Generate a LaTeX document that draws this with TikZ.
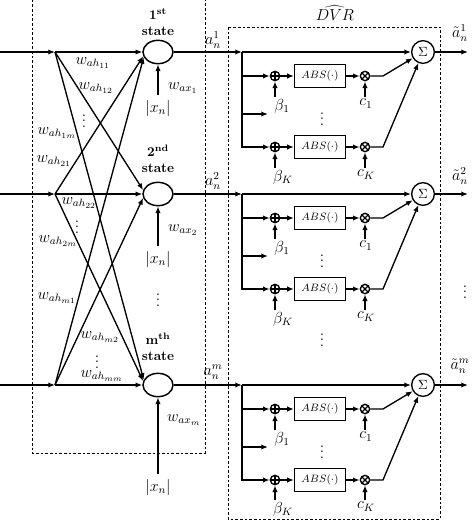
\documentclass[tikz,border=0pt]{standalone}
\usetikzlibrary{arrows.meta,shapes.geometric}

\tikzset{every picture/.style={line width=1pt}}
\tikzset{
  statenode/.style={draw, ellipse, inner sep=0pt, minimum width=22.5pt, minimum height=17.5pt, line width=1.1pt},
  sumnode/.style={draw, circle, inner sep=0pt, minimum size=17pt, font=\normalsize},
  absbox/.style={draw, rectangle, minimum width=38pt, minimum height=17pt, inner sep=1pt, font=\footnotesize, line width=1.2pt},
  addnode/.style={draw, circle, inner sep=0pt, minimum size=7pt,
    path picture={\draw (path picture bounding box.north) -- (path picture bounding box.south)
      (path picture bounding box.west) -- (path picture bounding box.east);}},
  mulnode/.style={draw, circle, inner sep=0pt, minimum size=7pt,
    path picture={\draw (path picture bounding box.north west) -- (path picture bounding box.south east)
      (path picture bounding box.north east) -- (path picture bounding box.south west);}},
  dashbox/.style={dash pattern=on 2pt off 1.5pt, line width=0.6pt},
  coef/.style={anchor=north, inner sep=1pt},
  statelbl/.style={align=center, font=\normalsize\bfseries, inner sep=1pt}
}

\begin{document}
\begin{tikzpicture}[x=0.75pt,y=0.75pt,yscale=-1,xscale=1, >={Latex[length=5pt,width=4pt]}, every node/.append style={font=\large}]
	\useasboundingbox (0,0) rectangle (474,521);

	%Dashed boxes
	\draw [dashbox] (32,-5) rectangle (205,453);
	\draw [dashbox] (228,27) rectangle (440,519);
	% Text Node
	\node (dvr) at (335,13) {$\widehat{DVR}$};

	%States
	\node [statenode] (s1) at (158,52) {};
	\node [statenode] (s2) at (158,194) {};
	\node [statenode] (s3) at (158,385) {};
	% Text Node
	\node [statelbl] (t1) at (158,22) {1\textsuperscript{st}\\state};
	\node [statelbl] (t2) at (158,159) {2\textsuperscript{nd}\\state};
	\node [statelbl] (t3) at (158,347) {m\textsuperscript{th}\\state};
	\node (sdots) at (158,296) {$\vdots$};

	%Inputs and fan points
	\coordinate (in1) at (0,52);
	\coordinate (f1) at (55,52);
	\coordinate (in2) at (0,194);
	\coordinate (f2) at (55,194);
	\coordinate (in3) at (0,385);
	\coordinate (f3) at (55,385);
	\draw [->] (in1) -- (f1);
	\draw [->] (in2) -- (f2);
	\draw [->] (in3) -- (f3);

	%Weight lines
	\draw [->] (f1) -- (s1);
	\draw [->] (f1) -- (s2.165);
	\draw [->] (f1) -- (s3.160);
	\draw [->] (f2) -- (s1.196);
	\draw [->] (f2) -- (s2);
	\draw [->] (f2) -- (s3.165);
	\draw [->] (f3) -- (s1.200);
	\draw [->] (f3) -- (s2.195);
	\draw [->] (f3) -- (s3);

	% Text Node
	\node (w11) at (93,63) {$w_{ah_{11}}$};
	\node (w12) at (96,88) {$w_{ah_{12}}$};
	\node (wd1) at (84,117) {$\vdots$};
	\node (w1m) at (57,133) {$w_{ah_{1m}}$};
	\node (w21) at (54,161) {$w_{ah_{21}}$};
	\node (w22) at (79,203) {$w_{ah_{22}}$};
	\node (wd2) at (77,223) {$\vdots$};
	\node (w2m) at (58,241) {$w_{ah_{2m}}$};
	\node (wm1) at (57,298) {$w_{ah_{m1}}$};
	\node (wm2) at (100,337) {$w_{ah_{m2}}$};
	\node (wdm) at (97,358) {$\vdots$};
	\node (wmm) at (102,376) {$w_{ah_{mm}}$};

	%Inputs from below
	\node (x1) at (158,108) {$|x_n|$};
	\node (x2) at (158,259) {$|x_n|$};
	\node (x3) at (158,487) {$|x_n|$};
	\draw [->] (x1) -- (s1);
	\draw [->] (x2) -- (s2);
	\draw [->] (x3) -- (s3);
	\node (wx1) at (183,88) {$w_{ax_1}$};
	\node (wx2) at (183,230) {$w_{ax_2}$};
	\node (wxm) at (184,420) {$w_{ax_m}$};

	%Outputs to DVR
	\coordinate (j1) at (242,52);
	\coordinate (j2) at (242,194);
	\coordinate (j3) at (242,385);
	\draw [->] (s1) -- (j1);
	\draw [->] (s2) -- (j2);
	\draw [->] (s3) -- (j3);
	\node (a1) at (213,40) {$a_n^1$};
	\node (a2) at (213,181) {$a_n^2$};
	\node (a3) at (213,372) {$a_n^m$};

	%DVR block 1
	\node [sumnode] (sum1) at (423,52) {$\Sigma$};
	\draw [->] (j1) -- (sum1);
	\node [addnode] (p1a) at (275,76) {};
	\node [absbox] (abs1a) at (320,76) {$ABS(\cdot)$};
	\node [mulnode] (m1a) at (365,76) {};
	\coordinate (k1a) at (383,76);
	\node [addnode] (p1k) at (275,147) {};
	\node [absbox] (abs1k) at (320,147) {$ABS(\cdot)$};
	\node [mulnode] (m1k) at (365,147) {};
	\coordinate (k1k) at (383,147);
	\coordinate (j1c) at (242,114);
	\coordinate (e1c) at (268,114);
	\draw [->] (j1) |- (p1k);
	\draw [->] (p1a -| j1) -- (p1a);
	\draw [->] (j1c) -- (e1c);
	\draw [->] (p1a) -- (abs1a);
	\draw [->] (abs1a) -- (m1a);
	\draw [->] (m1a) -- (k1a) -- (sum1);
	\draw [->] (p1k) -- (abs1k);
	\draw [->] (abs1k) -- (m1k);
	\draw [->] (m1k) -- (k1k) -- (sum1);
	\node [coef] (b1a) at (282,97) {$\beta_1$};
	\node [coef] (c1a) at (366,97) {$c_1$};
	\node [coef] (b1k) at (283,168) {$\beta_K$};
	\node [coef] (c1k) at (366,168) {$c_K$};
	\draw [->] (p1a |- b1a.north) -- (p1a);
	\draw [->] (m1a |- b1a.north) -- (m1a);
	\draw [->] (p1k |- b1k.north) -- (p1k);
	\draw [->] (m1k |- b1k.north) -- (m1k);
	\node (d1) at (322,115) {$\vdots$};
	\coordinate (out1) at (468,52);
	\draw [->] (sum1) -- (out1);
	\node (o1) at (460,33) {$\tilde{a}_n^1$};

	%DVR block 2
	\node [sumnode] (sum2) at (423,194) {$\Sigma$};
	\draw [->] (j2) -- (sum2);
	\node [addnode] (p2a) at (275,218) {};
	\node [absbox] (abs2a) at (320,218) {$ABS(\cdot)$};
	\node [mulnode] (m2a) at (365,218) {};
	\coordinate (k2a) at (383,218);
	\node [addnode] (p2k) at (275,289) {};
	\node [absbox] (abs2k) at (320,289) {$ABS(\cdot)$};
	\node [mulnode] (m2k) at (365,289) {};
	\coordinate (k2k) at (383,289);
	\coordinate (j2c) at (242,256);
	\coordinate (e2c) at (268,256);
	\draw [->] (j2) |- (p2k);
	\draw [->] (p2a -| j2) -- (p2a);
	\draw [->] (j2c) -- (e2c);
	\draw [->] (p2a) -- (abs2a);
	\draw [->] (abs2a) -- (m2a);
	\draw [->] (m2a) -- (k2a) -- (sum2);
	\draw [->] (p2k) -- (abs2k);
	\draw [->] (abs2k) -- (m2k);
	\draw [->] (m2k) -- (k2k) -- (sum2);
	\node [coef] (b2a) at (282,239) {$\beta_1$};
	\node [coef] (c2a) at (366,239) {$c_1$};
	\node [coef] (b2k) at (283,310) {$\beta_K$};
	\node [coef] (c2k) at (366,310) {$c_K$};
	\draw [->] (p2a |- b2a.north) -- (p2a);
	\draw [->] (m2a |- b2a.north) -- (m2a);
	\draw [->] (p2k |- b2k.north) -- (p2k);
	\draw [->] (m2k |- b2k.north) -- (m2k);
	\node (d2) at (322,257) {$\vdots$};
	\node (d23) at (322,336) {$\vdots$};
	\coordinate (out2) at (468,194);
	\draw [->] (sum2) -- (out2);
	\node (o2) at (460,176) {$\tilde{a}_n^2$};
	\node (od) at (465,288) {$\vdots$};

	%DVR block m
	\node [sumnode] (sum3) at (423,385) {$\Sigma$};
	\draw [->] (j3) -- (sum3);
	\node [addnode] (p3a) at (275,409) {};
	\node [absbox] (abs3a) at (320,409) {$ABS(\cdot)$};
	\node [mulnode] (m3a) at (365,409) {};
	\coordinate (k3a) at (383,409);
	\node [addnode] (p3k) at (275,480) {};
	\node [absbox] (abs3k) at (320,480) {$ABS(\cdot)$};
	\node [mulnode] (m3k) at (365,480) {};
	\coordinate (k3k) at (383,480);
	\coordinate (j3c) at (242,447);
	\coordinate (e3c) at (268,447);
	\draw [->] (j3) |- (p3k);
	\draw [->] (p3a -| j3) -- (p3a);
	\draw [->] (j3c) -- (e3c);
	\draw [->] (p3a) -- (abs3a);
	\draw [->] (abs3a) -- (m3a);
	\draw [->] (m3a) -- (k3a) -- (sum3);
	\draw [->] (p3k) -- (abs3k);
	\draw [->] (abs3k) -- (m3k);
	\draw [->] (m3k) -- (k3k) -- (sum3);
	\node [coef] (b3a) at (282,430) {$\beta_1$};
	\node [coef] (c3a) at (366,430) {$c_1$};
	\node [coef] (b3k) at (283,500) {$\beta_K$};
	\node [coef] (c3k) at (366,500) {$c_K$};
	\draw [->] (p3a |- b3a.north) -- (p3a);
	\draw [->] (m3a |- b3a.north) -- (m3a);
	\draw [->] (p3k |- b3k.north) -- (p3k);
	\draw [->] (m3k |- b3k.north) -- (m3k);
	\node (d3) at (322,448) {$\vdots$};
	\coordinate (out3) at (468,385);
	\draw [->] (sum3) -- (out3);
	\node (o3) at (460,366) {$\tilde{a}_n^m$};

\end{tikzpicture}
\end{document}
